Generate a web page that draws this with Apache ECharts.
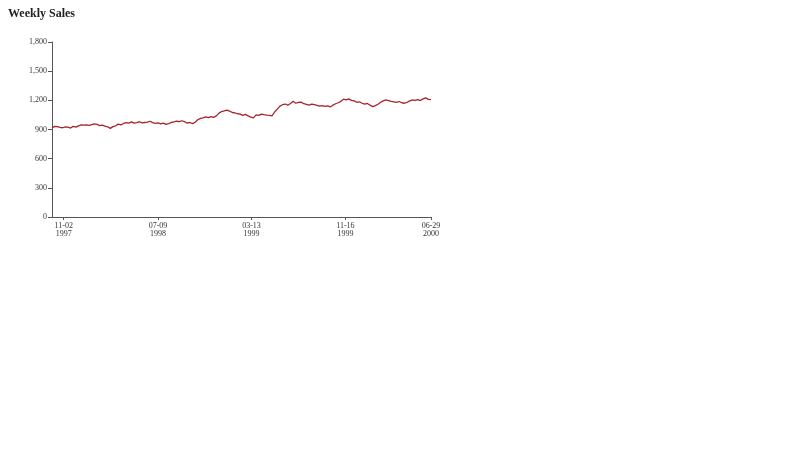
<!DOCTYPE html>
<html><head><meta charset="utf-8">
<script src="https://cdn.jsdelivr.net/npm/echarts@6/dist/echarts.min.js"></script>
<style>html,body{margin:0;padding:0;background:#fff}#c{width:800px;height:450px}</style>
</head><body><div id="c"></div>
<script>
const title = 'Weekly Sales';
const dates = [
'1997-10-02','1997-10-09','1997-10-16','1997-10-23','1997-10-30','1997-11-06','1997-11-13','1997-11-20','1997-11-27','1997-12-04','1997-12-11','1997-12-18','1997-12-25',
'1998-01-01','1998-01-08','1998-01-15','1998-01-22','1998-01-29','1998-02-05','1998-02-12','1998-02-19','1998-02-26','1998-03-05','1998-03-12','1998-03-19','1998-03-26',
'1998-04-02','1998-04-09','1998-04-16','1998-04-23','1998-04-30','1998-05-07','1998-05-14','1998-05-21','1998-05-28','1998-06-04','1998-06-11','1998-06-18','1998-06-25',
'1998-07-02','1998-07-09','1998-07-16','1998-07-23','1998-07-30','1998-08-06','1998-08-13','1998-08-20','1998-08-27','1998-09-03','1998-09-10','1998-09-17','1998-09-24',
'1998-10-01','1998-10-08','1998-10-15','1998-10-22','1998-10-29','1998-11-05','1998-11-12','1998-11-19','1998-11-26','1998-12-03','1998-12-10','1998-12-17','1998-12-24','1998-12-31',
'1999-01-07','1999-01-14','1999-01-21','1999-01-28','1999-02-04','1999-02-11','1999-02-18','1999-02-25','1999-03-04','1999-03-11','1999-03-18','1999-03-25',
'1999-04-01','1999-04-08','1999-04-15','1999-04-22','1999-04-29','1999-05-06','1999-05-13','1999-05-20','1999-05-27','1999-06-03','1999-06-10','1999-06-17','1999-06-24',
'1999-07-01','1999-07-08','1999-07-15','1999-07-22','1999-07-29','1999-08-05','1999-08-12','1999-08-19','1999-08-26','1999-09-02','1999-09-09','1999-09-16','1999-09-23','1999-09-30',
'1999-10-07','1999-10-14','1999-10-21','1999-10-28','1999-11-04','1999-11-11','1999-11-18','1999-11-25','1999-12-02','1999-12-09','1999-12-16','1999-12-23','1999-12-30',
'2000-01-06','2000-01-13','2000-01-20','2000-01-27','2000-02-03','2000-02-10','2000-02-17','2000-02-24','2000-03-02','2000-03-09','2000-03-16','2000-03-23','2000-03-30',
'2000-04-06','2000-04-13','2000-04-20','2000-04-27','2000-05-04','2000-05-11','2000-05-18','2000-05-25','2000-06-01','2000-06-08','2000-06-15','2000-06-22','2000-06-29'
];
const sales = [
915,932,930,922,918,928,924,915,932,925,938,948,944,948,942,950,958,952,940,945,
935,928,912,930,938,955,948,962,970,966,978,965,970,980,968,972,975,985,970,962,
968,958,966,952,960,972,978,985,980,990,982,965,972,960,975,1000,1015,1020,1030,1022,
1032,1025,1040,1068,1085,1092,1100,1090,1075,1070,1062,1058,1045,1055,1040,1028,1020,1050,1045,1058,
1052,1048,1045,1040,1080,1110,1140,1155,1162,1150,1168,1190,1170,1178,1182,1165,1158,1150,1160,1155,
1148,1140,1145,1138,1142,1132,1150,1165,1175,1190,1212,1205,1215,1200,1195,1180,1185,1170,1160,1168,
1150,1135,1145,1160,1180,1195,1205,1198,1190,1185,1178,1188,1175,1170,1180,1195,1205,1200,1208,1198,
1215,1225,1210,1208
];
const xTickDates = ['1997-11-02','1998-07-09','1999-03-13','1999-11-16','2000-06-29'];
const yTicks = [0,300,600,900,1200,1500,1800];

function ts(s){const p=s.split('-').map(Number);return Date.UTC(p[0],p[1]-1,p[2]);}
const font = '"Liberation Serif","DejaVu Serif",serif';
const chart = echarts.init(document.getElementById('c'), null, {renderer:'canvas'});
chart.setOption({
  backgroundColor:'#fff',
  animation:false,
  title:{text:title,left:3,top:3,textStyle:{fontFamily:font,fontSize:12,fontWeight:'bold',color:'#222'}},
  grid:{left:52,right:369,top:42,bottom:233,containLabel:false},
  xAxis:{
    type:'value',
    min:ts(dates[0]), max:ts(dates[dates.length-1]),
    axisLine:{show:true,onZero:false,lineStyle:{color:'#555',width:1}},
    axisTick:{show:true,length:3,lineStyle:{color:'#555'},customValues:xTickDates.map(ts)},
    axisLabel:{
      customValues:xTickDates.map(ts),
      fontFamily:font,fontSize:8,color:'#333',margin:5,lineHeight:8,
      formatter:function(v){const d=new Date(v);const mm=String(d.getUTCMonth()+1).padStart(2,'0');const dd=String(d.getUTCDate()).padStart(2,'0');return mm+'-'+dd+'\n'+d.getUTCFullYear();}
    },
    splitLine:{show:false}
  },
  yAxis:{
    type:'value',min:yTicks[0],max:yTicks[yTicks.length-1],interval:300,
    axisLine:{show:true,lineStyle:{color:'#555',width:1}},
    axisTick:{show:true,length:4,lineStyle:{color:'#555'}},
    axisLabel:{fontFamily:font,fontSize:8,color:'#333',margin:5,
      formatter:function(v){return v.toLocaleString('en-US');}},
    splitLine:{show:false}
  },
  series:[{
    type:'line',
    data:dates.map((d,i)=>[ts(d),sales[i]]),
    showSymbol:false,
    lineStyle:{color:'#a8232b',width:1.3},
    itemStyle:{color:'#a8232b'}
  }]
});
</script></body></html>
